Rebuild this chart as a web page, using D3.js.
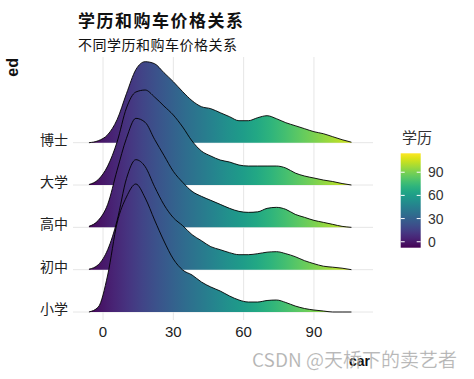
<!DOCTYPE html>
<html><head><meta charset="utf-8">
<script src="https://cdn.jsdelivr.net/npm/d3@7"></script>
<style>
html,body{margin:0;padding:0;background:#fff;}
svg{display:block;}
text{font-family:"Liberation Sans","Noto Sans CJK SC",Arial,sans-serif;}
.cjk{font-family:"Noto Sans CJK SC","Liberation Sans",sans-serif;}
</style></head>
<body>
<script>
// ---------- data ----------
const categories = ["小学", "初中", "高中", "大学", "博士"];
const xGrid = [-6, -2, 2, 6, 10, 14, 18, 22, 26, 30, 34, 38, 42, 46, 50, 54, 58, 62, 66, 70, 74, 78, 82, 86, 90, 94, 98, 102, 106];
// ridge heights (scaled density) at xGrid
const dBoshi  = [0, 2, 8, 23, 49, 73, 81, 79, 70, 61, 51, 42, 36, 34, 30, 26, 22, 22, 25, 27, 24, 20, 17, 14, 11, 9, 6, 3, 0.5];
const dDaxue  = [0.5, 5.5, 19, 43, 77, 93, 95, 88, 79, 70, 58, 44, 34, 29, 25, 23, 20, 19, 19, 19, 19, 17, 12, 9, 7, 5, 3.5, 1.5, 0];
const dGaozh  = [1, 7, 23, 57, 89, 109, 105, 88, 72, 56, 45, 36, 31, 27, 23, 19, 16, 15, 15.5, 19, 20, 18, 13, 10, 7, 5, 3, 1, 0];
const dChuzh  = [0.5, 5, 20, 49, 91, 110, 103, 83, 65, 52, 44, 35, 29, 23, 20, 17, 15, 15, 16, 17.5, 18, 16, 13, 9, 6, 3.5, 2.5, 1.5, 0];
const dXiaox  = [0, 5, 37, 89, 115, 128, 114, 92, 71, 53, 42, 37, 30, 25, 21, 16, 12, 10, 10, 11.5, 12, 9.5, 6, 3.5, 2, 1, 0, 0, 0];
const xTicks = [0, 30, 60, 90];
const legendTicks = [0, 30, 60, 90];
const colorDomain = [-7.7, 114.5];
const titleText = "学历和购车价格关系";
const subtitleText = "不同学历和购车价格关系";
const legendTitle = "学历";
const xTitle = "car";
const yTitle = "ed";
const watermark = "CSDN @天桥下的卖艺者";

const seriesByCat = {"小学": dXiaox, "初中": dChuzh, "高中": dGaozh, "大学": dDaxue, "博士": dBoshi};

// ---------- layout ----------
const W = 474, H = 379;
const svg = d3.select("body").append("svg").attr("width", W).attr("height", H);

const panel = {left: 73, right: 373, top: 57, bottom: 320};
const x = d3.scaleLinear().domain([-12.8, 115.2]).range([panel.left, panel.right]);
const y = d3.scalePoint().domain(categories).range([312, 142.7]);
const h = d3.scaleLinear().domain([0, 130]).range([0, 130]);

// gradient along x
const defs = svg.append("defs");
const grad = defs.append("linearGradient").attr("id", "xgrad")
  .attr("gradientUnits", "userSpaceOnUse")
  .attr("x1", x(colorDomain[0])).attr("x2", x(colorDomain[1]))
  .attr("y1", 0).attr("y2", 0);
d3.range(0, 1.0001, 0.05).forEach(t => {
  grad.append("stop").attr("offset", t).attr("stop-color", d3.interpolateViridis(t));
});
const lgrad = defs.append("linearGradient").attr("id", "lgrad")
  .attr("x1", 0).attr("x2", 0).attr("y1", 1).attr("y2", 0);
d3.range(0, 1.0001, 0.05).forEach(t => {
  lgrad.append("stop").attr("offset", t).attr("stop-color", d3.interpolateViridis(t));
});

// gridlines
const grid = svg.append("g");
grid.selectAll("line.v").data(xTicks).join("line")
  .attr("x1", d => x(d)).attr("x2", d => x(d))
  .attr("y1", panel.top).attr("y2", panel.bottom)
  .attr("stroke", "#e6e6e6").attr("stroke-width", 1);
grid.selectAll("line.h").data(categories).join("line")
  .attr("x1", panel.left).attr("x2", panel.right)
  .attr("y1", d => y(d)).attr("y2", d => y(d))
  .attr("stroke", "#e6e6e6").attr("stroke-width", 1);

// ridges (top first so lower ones overlap)
const drawOrder = categories.slice().reverse();
drawOrder.forEach(cat => {
  const vals = seriesByCat[cat];
  const pts = xGrid.map((xv, i) => [xv, vals[i]]);
  const base = y(cat);
  const area = d3.area().curve(d3.curveMonotoneX)
    .x(d => x(d[0])).y0(base).y1(d => base - h(d[1]));
  const line = d3.line().curve(d3.curveMonotoneX)
    .x(d => x(d[0])).y(d => base - h(d[1]));
  svg.append("path").attr("d", area(pts)).attr("fill", "url(#xgrad)");
  svg.append("path").attr("d", line(pts)).attr("fill", "none")
    .attr("stroke", "#000").attr("stroke-width", 0.9);
});

// y labels
svg.append("g").selectAll("text").data(categories).join("text")
  .attr("class", "cjk")
  .attr("x", 68).attr("y", d => y(d) + 2)
  .attr("text-anchor", "end").attr("font-size", 14).attr("fill", "#222")
  .text(d => d);

// x tick labels
svg.append("g").selectAll("text").data(xTicks).join("text")
  .attr("x", d => x(d)).attr("y", 337)
  .attr("text-anchor", "middle").attr("font-size", 15).attr("fill", "#222")
  .text(d => d);

// titles
svg.append("text").attr("class", "cjk").attr("x", 78).attr("y", 27)
  .attr("font-size", 17).attr("font-weight", "bold").attr("letter-spacing", 1.5)
  .attr("fill", "#111").text(titleText);
svg.append("text").attr("class", "cjk").attr("x", 78).attr("y", 50)
  .attr("font-size", 14).attr("letter-spacing", 0.5)
  .attr("fill", "#111").text(subtitleText);

// axis titles
svg.append("text").attr("transform", `translate(18,58) rotate(-90)`)
  .attr("text-anchor", "end").attr("font-size", 16).attr("font-weight", "bold")
  .attr("fill", "#111").text(yTitle);
svg.append("text").attr("x", 370).attr("y", 366)
  .attr("text-anchor", "end").attr("font-size", 14).attr("font-weight", "bold")
  .attr("fill", "#111").text(xTitle);

// legend
const ly = d3.scaleLinear().domain(colorDomain).range([247.7, 153.3]);
const lx = 400.7, lw = 20;
svg.append("text").attr("class", "cjk").attr("x", 402).attr("y", 143)
  .attr("font-size", 15).attr("fill", "#333").text(legendTitle);
svg.append("rect").attr("x", lx).attr("y", ly(colorDomain[1]))
  .attr("width", lw).attr("height", ly(colorDomain[0]) - ly(colorDomain[1]))
  .attr("fill", "url(#lgrad)");
const lt = svg.append("g");
lt.selectAll("line.l").data(legendTicks).join("line")
  .attr("x1", lx).attr("x2", lx + 4).attr("y1", d => ly(d)).attr("y2", d => ly(d))
  .attr("stroke", "#fff").attr("stroke-width", 1);
lt.selectAll("line.r").data(legendTicks).join("line")
  .attr("x1", lx + lw - 4).attr("x2", lx + lw).attr("y1", d => ly(d)).attr("y2", d => ly(d))
  .attr("stroke", "#fff").attr("stroke-width", 1);
lt.selectAll("text").data(legendTicks).join("text")
  .attr("x", 428).attr("y", d => ly(d) + 5)
  .attr("font-size", 14).attr("fill", "#333").text(d => d);

// watermark (overlaps the x title as in the reference image)
svg.append("text").attr("class", "cjk").attr("x", 457).attr("y", 367)
  .attr("text-anchor", "end").attr("font-size", 19)
  .attr("fill", "rgba(150,150,150,0.75)").attr("stroke", "rgba(255,255,255,0.4)").attr("stroke-width", 0.5)
  .text(watermark);
</script>
</body></html>
